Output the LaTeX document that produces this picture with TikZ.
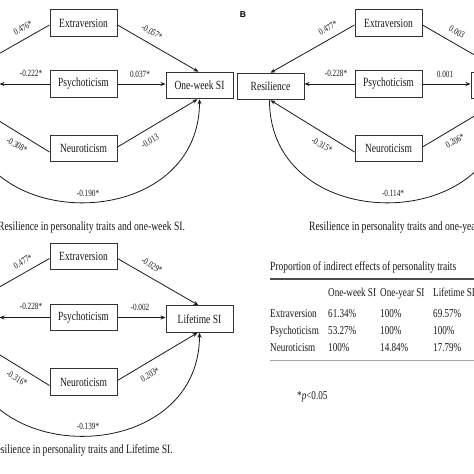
\documentclass[tikz,border=0pt]{standalone}
\usepackage{fontspec}
\setmainfont{Liberation Serif}[FakeStretch=0.76]
\newfontfamily\bsans{Liberation Sans}
\usetikzlibrary{arrows.meta,calc}
\newcommand\sempanel[9]{%
  \node[box] (res#1) at (-34.5,86.5) {Resilience};
  \node[box] (ext#1) at (83.5,23) {Extraversion};
  \node[box] (psy#1) at (83.5,84) {Psychoticism};
  \node[box] (neu#1) at (83.5,148.5) {Neuroticism};
  \node[box] (out#1) at (199.5,85.5) {#2};
  \draw[arr] ([yshift=-2pt]ext#1.west) -- (res#1.north);
  \draw[arr] ([yshift=-2pt]ext#1.east) -- ([xshift=-1pt]out#1.north);
  \draw[arr] (psy#1.west) -- (psy#1.west -| res#1.east);
  \draw[arr] (psy#1.east) -- (psy#1.east -| out#1.west);
  \draw[arr] ([yshift=-3.5pt]neu#1.west) -- (res#1.south);
  \draw[arr] ([yshift=1.5pt]neu#1.east) -- ([xshift=-2pt]out#1.south);
  \draw[arr] ([xshift=-1pt]res#1.south) .. controls +(0,137) and +(0,137) .. (out#1.south);
  \node[coef, rotate=30] (ca#1) at (23,28) {#3};
  \node[coef, rotate=-30] (cb#1) at (152,32) {#4};
  \node[coef] (cc#1) at (31,73) {#5};
  \node[coef] (cd#1) at (140,74) {#6};
  \node[coef, rotate=-30] (ce#1) at (17,145) {#7};
  \node[coef, rotate=30] (cf#1) at (150,141) {#8};
  \node[coef] (cg#1) at (88,193) {#9};
}
\begin{document}
\begin{tikzpicture}[x=1pt,y=-1pt,
  box/.style={draw=black!80, line width=1pt, minimum width=67pt, minimum height=26.5pt,
    inner sep=0pt, font=\fontsize{12.5}{14}\selectfont, text=black!90},
  coef/.style={font=\fontsize{9.5}{11}\selectfont, inner sep=0pt, text=black!90},
  arr/.style={-{Stealth[length=5pt,width=4pt]}, line width=0.8pt, draw=black!90},
  capt/.style={font=\fontsize{12.7}{14}\selectfont, inner sep=0pt, anchor=base west, text=black!90},
  tab/.style={font=\fontsize{12}{14}\selectfont, inner sep=0pt, anchor=base west, text=black!90}]
\useasboundingbox (0,0) rectangle (474,474);
\clip (0,0) rectangle (474,474);
\fill[white] (0,0) rectangle (474,474);

\sempanel{A}{One-week SI}{0.476*}{-0.057*}{-0.222*}{0.037*}{-0.308*}{-0.013}{-0.190*}
\begin{scope}[shift={(305,0)}]
\sempanel{B}{One-year SI}{0.477*}{0.003}{-0.228*}{0.001}{-0.315*}{0.206*}{-0.114*}
\end{scope}
\begin{scope}[shift={(0,233.5)}]
\sempanel{C}{Lifetime SI}{0.477*}{-0.029*}{-0.228*}{-0.002}{-0.316*}{0.203*}{-0.139*}
\end{scope}

\node[font=\bsans\bfseries\fontsize{8.5}{10}\selectfont, inner sep=0pt] (lblB) at (243,15) {B};

\node[capt] (capA) at (-2,230) {Resilience in personality traits and one-week SI.};
\node[capt] (capB) at (309,230) {Resilience in personality traits and one-year SI.};
\node[capt] (capC) at (-10,453) {Resilience in personality traits and Lifetime SI.};

% table
\node[tab, font=\fontsize{12.5}{14}\selectfont] (ttl) at (270,270) {Proportion of indirect effects of personality traits};
\draw[line width=1.2pt, black!70] (270,279) -- (474,279);
\node[tab] (h1) at (328,296) {One-week SI};
\node[tab] (h2) at (380,296) {One-year SI};
\node[tab] (h3) at (433,296) {Lifetime SI};
\node[tab] (r1) at (270,317) {Extraversion};
\node[tab] (r1a) at (328,317) {61.34\%};
\node[tab] (r1b) at (380,317) {100\%};
\node[tab] (r1c) at (433,317) {69.57\%};
\node[tab] (r2) at (270,334) {Psychoticism};
\node[tab] (r2a) at (328,334) {53.27\%};
\node[tab] (r2b) at (380,334) {100\%};
\node[tab] (r2c) at (433,334) {100\%};
\node[tab] (r3) at (270,351) {Neuroticism};
\node[tab] (r3a) at (328,351) {100\%};
\node[tab] (r3b) at (380,351) {14.84\%};
\node[tab] (r3c) at (433,351) {17.79\%};
\draw[line width=1pt, black!35] (270,360) -- (474,360);
\node[tab] (pnote) at (297,399) {*\textit{p}<0.05};
\end{tikzpicture}
\end{document}
